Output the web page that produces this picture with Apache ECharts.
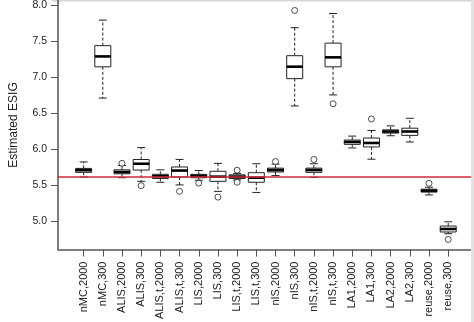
<!DOCTYPE html>
<html>
<head>
<meta charset="utf-8">
<script src="https://cdn.jsdelivr.net/npm/echarts@6/dist/echarts.min.js"></script>
<style>
html,body{margin:0;padding:0;background:#fff;}
#chart{width:474px;height:322px;}
</style>
</head>
<body>
<div id="chart"></div>
<script>
const categories = ['nMC,2000','nMC,300','ALIS,2000','ALIS,300','ALIS,t,2000','ALIS,t,300','LIS,2000','LIS,300','LIS,t,2000','LIS,t,300','nIS,2000','nIS,300','nIS,t,2000','nIS,t,300','LA1,2000','LA1,300','LA2,2000','LA2,300','reuse,2000','reuse,300'];
const lowerWhisker = [5.61, 6.71, 5.60, 5.55, 5.537, 5.50, 5.565, 5.41, 5.57, 5.395, 5.63, 6.60, 5.606, 6.754, 6.015, 5.858, 6.185, 6.098, 5.36, 4.82];
const q1 =           [5.675, 7.145, 5.655, 5.707, 5.59, 5.61, 5.60, 5.55, 5.59, 5.537, 5.68, 6.98, 5.675, 7.145, 6.065, 6.029, 6.222, 6.19, 5.40, 4.844];
const median =       [5.705, 7.29, 5.68, 5.795, 5.62, 5.70, 5.625, 5.615, 5.615, 5.60, 5.707, 7.147, 5.707, 7.277, 6.098, 6.084, 6.244, 6.244, 5.42, 4.886];
const q3 =           [5.73, 7.44, 5.71, 5.854, 5.647, 5.75, 5.647, 5.69, 5.64, 5.67, 5.734, 7.30, 5.734, 7.475, 6.125, 6.153, 6.267, 6.29, 5.44, 4.927];
const upperWhisker = [5.82, 7.796, 5.77, 6.02, 5.71, 5.855, 5.70, 5.80, 5.66, 5.795, 5.79, 7.69, 5.795, 7.888, 6.18, 6.258, 6.322, 6.428, 5.468, 4.986];
const outlierCategory = [2, 3, 5, 6, 7, 8, 8, 10, 11, 12, 13, 15, 18, 19];
const outlierValue =    [5.80, 5.49, 5.41, 5.525, 5.33, 5.705, 5.537, 5.826, 7.93, 5.854, 6.63, 6.419, 5.523, 4.74];
const referenceValue = 5.62;
const yTickValues = [5.0, 5.5, 6.0, 6.5, 7.0, 7.5, 8.0];
const yTitle = 'Estimated ESIG';

const boxData = categories.map((c, i) => [i, lowerWhisker[i], q1[i], median[i], q3[i], upperWhisker[i]]);
const outlierData = outlierCategory.map((c, i) => [c, outlierValue[i]]);
const catIdx = categories.map((c, i) => i);

const FONT = 'Liberation Sans, Arial, sans-serif';
const INK = '#222';

function renderBox(params, api) {
  const x = api.value(0);
  const pLw = api.coord([x, api.value(1)]);
  const pQ1 = api.coord([x, api.value(2)]);
  const pMed = api.coord([x, api.value(3)]);
  const pQ3 = api.coord([x, api.value(4)]);
  const pUw = api.coord([x, api.value(5)]);
  const cx = pMed[0];
  const bw = 16, cw = 8;
  const thin = {stroke: INK, lineWidth: 1};
  const dash = {stroke: INK, lineWidth: 1, lineDash: [3, 2]};
  return {
    type: 'group',
    children: [
      {type: 'line', shape: {x1: cx, y1: pQ3[1], x2: cx, y2: pUw[1]}, style: dash},
      {type: 'line', shape: {x1: cx, y1: pQ1[1], x2: cx, y2: pLw[1]}, style: dash},
      {type: 'line', shape: {x1: cx - cw / 2, y1: pUw[1], x2: cx + cw / 2, y2: pUw[1]}, style: thin},
      {type: 'line', shape: {x1: cx - cw / 2, y1: pLw[1], x2: cx + cw / 2, y2: pLw[1]}, style: thin},
      {type: 'rect', shape: {x: cx - bw / 2, y: pQ3[1], width: bw, height: pQ1[1] - pQ3[1]}, style: {fill: '#fff', stroke: INK, lineWidth: 1}},
      {type: 'line', shape: {x1: cx - bw / 2, y1: pMed[1], x2: cx + bw / 2, y2: pMed[1]}, style: {stroke: '#000', lineWidth: 2.6}}
    ]
  };
}

const chart = echarts.init(document.getElementById('chart'), null, {renderer: 'canvas'});
chart.setOption({
  animation: false,
  backgroundColor: '#fff',
  grid: {left: 52, top: 0, width: 420, height: 252, containLabel: false},
  xAxis: {
    type: 'value',
    min: -1.335,
    max: 20.24,
    splitLine: {show: false},
    axisLine: {show: true, onZero: false, lineStyle: {color: '#555', width: 1.5}},
    axisTick: {show: true, customValues: catIdx, length: 7, lineStyle: {color: '#555', width: 1}},
    axisLabel: {
      show: true, customValues: catIdx, rotate: 90, margin: 12,
      fontSize: 11, fontFamily: FONT, color: INK,
      formatter: v => categories[Math.round(v)] || ''
    }
  },
  yAxis: {
    type: 'value',
    min: 4.6,
    max: 8.07,
    name: yTitle,
    nameLocation: 'middle',
    nameGap: 38,
    nameTextStyle: {fontSize: 12, fontFamily: FONT, color: INK},
    splitLine: {show: false},
    axisLine: {show: true, onZero: false, lineStyle: {color: '#555', width: 1.5}},
    axisTick: {show: true, customValues: yTickValues, length: 7, lineStyle: {color: '#555', width: 1}},
    axisLabel: {
      show: true, customValues: yTickValues, margin: 11,
      fontSize: 10.5, fontFamily: FONT, color: INK,
      formatter: v => v.toFixed(1)
    }
  },
  series: [
    {
      type: 'custom',
      renderItem: renderBox,
      data: boxData,
      encode: {x: 0, y: [1, 2, 3, 4, 5]},
      z: 2,
      silent: true
    },
    {
      type: 'scatter',
      data: outlierData,
      symbol: 'circle',
      symbolSize: 6,
      itemStyle: {color: '#fff', borderColor: INK, borderWidth: 1},
      z: 3,
      silent: true
    },
    {
      type: 'line',
      data: [],
      z: 5,
      markLine: {
        silent: true,
        symbol: 'none',
        label: {show: false},
        lineStyle: {color: '#d42a35', width: 1.6, type: 'solid'},
        data: [{yAxis: referenceValue}]
      }
    }
  ],
  graphic: [
    {type: 'rect', shape: {x: 52, y: 0, width: 422, height: 1.5}, style: {fill: '#d6d6d6'}, z: -1, silent: true},
    {type: 'rect', shape: {x: 471, y: 0, width: 3, height: 322}, style: {fill: '#e2e2e2'}, z: 100, silent: true}
  ]
});
</script>
</body>
</html>
